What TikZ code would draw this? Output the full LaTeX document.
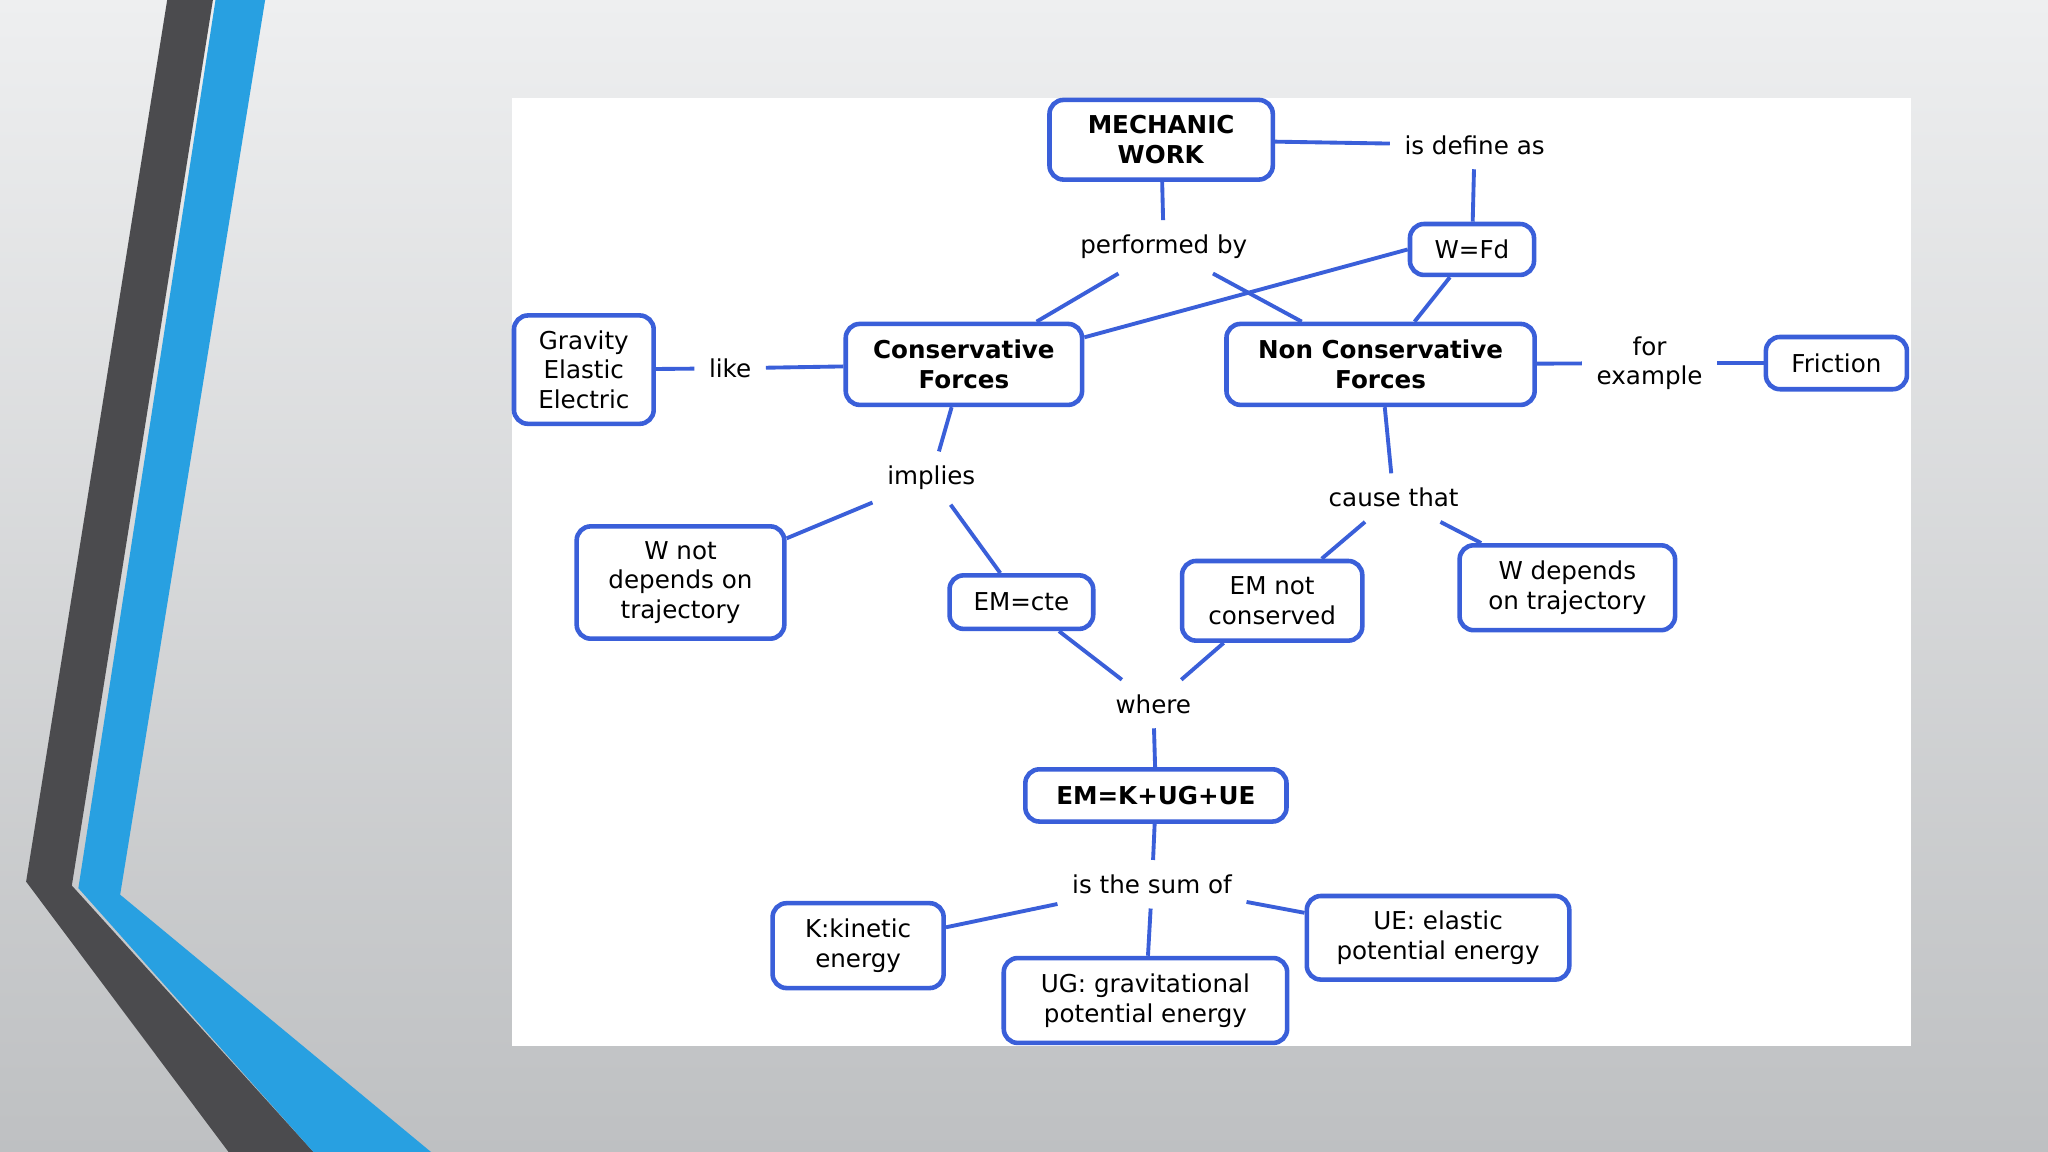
\documentclass[tikz,border=0pt]{standalone}
\usepackage{fontspec}
\setmainfont{DejaVu Sans}
\definecolor{mapblue}{RGB}{58,95,217}
\definecolor{stripeblue}{RGB}{40,160,225}
\definecolor{stripedark}{RGB}{75,75,78}
\definecolor{bgtop}{RGB}{238,239,240}
\definecolor{bgbot}{RGB}{190,192,194}
\def\u{0.3716pt}
\begin{document}
\begin{tikzpicture}[x=0.013061cm,y=-0.013061cm,
  box/.style 2 args={draw=mapblue,line width=1.3pt,rounded corners=4pt,fill=white,align=center,
    font=\fontsize{7}{8.4}\selectfont,inner sep=1pt,minimum width={#1*\u},minimum height={#2*\u}},
  lab/.style={align=center,font=\fontsize{7}{8.4}\selectfont,inner sep=4pt},
  link/.style={mapblue,line width=1.1pt}]
% background
\shade[top color=bgtop,bottom color=bgbot] (0,0) rectangle (1568,882);
\useasboundingbox (0,0) rectangle (1568,882);
\fill[stripedark] (128,0) -- (163,0) -- (55,678) -- (240,882) -- (175,882) -- (20,675) -- cycle;
\fill[stripeblue] (165,0) -- (203,0) -- (92,685) -- (330,882) -- (240,882) -- (60,680) -- cycle;
\fill[white] (392,75) rectangle (1463,801);
% nodes
\node[box={171}{61}] (mw) at (889,107) {\textbf{MECHANIC}\\\textbf{WORK}};
\node[lab] (isdef) at (1129,111) {is define as};
\node[box={95}{39}] (wfd) at (1127,191) {W=Fd};
\node[lab] (perf) at (891,189) {performed by};
\node[box={181}{62}] (cons) at (738,279) {\textbf{Conservative}\\\textbf{Forces}};
\node[box={236}{62}] (noncons) at (1057,279) {\textbf{Non Conservative}\\\textbf{Forces}};
\node[box={107}{83}] (grav) at (447,283) {Gravity\\Elastic\\Electric};
\node[lab] (like) at (559,282) {like};
\node[lab] (forex) at (1263,278) {for\\example};
\node[box={108}{40}] (fric) at (1406,278) {Friction};
\node[lab] (impl) at (713,366) {implies};
\node[box={159}{86}] (wnot) at (521,446) {W not\\depends on\\trajectory};
\node[box={110}{41}] (emcte) at (782,461) {EM=cte};
\node[lab] (cause) at (1067,381) {cause that};
\node[box={138}{61}] (emnot) at (974,460) {EM not\\conserved};
\node[box={165}{65}] (wdep) at (1200,450) {W depends\\on trajectory};
\node[lab] (where) at (883,539) {where};
\node[box={200}{40}] (emk) at (885,609) {\textbf{EM=K+UG+UE}};
\node[lab] (sum) at (882,677) {is the sum of};
\node[box={131}{65}] (kin) at (657,724) {K:kinetic\\energy};
\node[box={217}{65}] (ug) at (877,766) {UG: gravitational\\potential energy};
\node[box={201}{64}] (ue) at (1101,718) {UE: elastic\\potential energy};
% connectors
\draw[link] (mw) -- (isdef);
\draw[link] (isdef) -- (wfd);
\draw[link] (mw) -- (perf);
\draw[link] (perf) -- (cons);
\draw[link] (perf) -- (noncons);
\draw[link] (cons.north east) ++(0,12) -- (wfd.west);
\draw[link] (wfd) -- (noncons);
\draw[link] (grav) -- (like);
\draw[link] (like) -- (cons);
\draw[link] (noncons) -- (forex);
\draw[link] (forex) -- (fric);
\draw[link] (cons) -- (impl);
\draw[link] (impl) -- (wnot);
\draw[link] (impl) -- (emcte);
\draw[link] (noncons) -- (cause);
\draw[link] (cause) -- (emnot);
\draw[link] (cause) -- (wdep);
\draw[link] (emcte) -- (where);
\draw[link] (emnot) -- (where);
\draw[link] (where) -- (emk);
\draw[link] (emk) -- (sum);
\draw[link] (sum) -- (kin);
\draw[link] (sum) -- (ug);
\draw[link] (sum) -- (ue);
\end{tikzpicture}
\end{document}
